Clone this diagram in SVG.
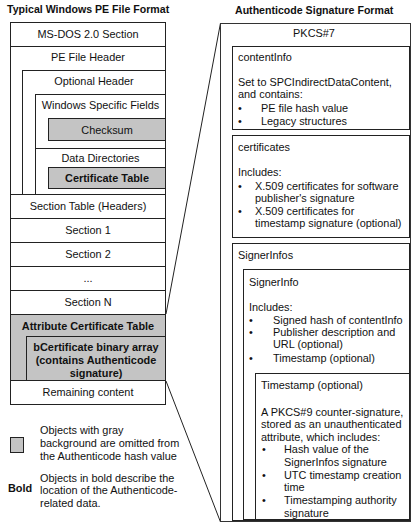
<svg xmlns="http://www.w3.org/2000/svg" width="412" height="526" viewBox="0 0 412 526">
<style>
text{font-family:"Liberation Sans",Arial,sans-serif;font-size:10.9px;fill:#111}
.t{font-size:10.6px}
.b{font-weight:bold}
.c{text-anchor:middle}
.box{fill:#fff;stroke:#222;stroke-width:1}
.g{fill:#c4c4c4;stroke:#222;stroke-width:1}
.ln{fill:none;stroke:#222;stroke-width:1}
</style>
<rect width="412" height="526" fill="#fff"/>
<text class="b t" x="7" y="13">Typical Windows PE File Format</text>
<text class="b t" x="235" y="14">Authenticode Signature Format</text>

<g id="pe-file">
<rect class="box" x="10.5" y="22.5" width="155" height="382"/>
</g>
<g id="ms-dos"><rect class="box" x="10.5" y="22.5" width="155" height="24"/><text class="c" x="88" y="38">MS-DOS 2.0 Section</text></g>
<g id="pe-header"><rect class="box" x="10.5" y="46.5" width="155" height="148"/><text class="c" x="88" y="61">PE File Header</text></g>
<g id="optional-header"><rect class="box" x="22.5" y="70.5" width="143" height="124"/><text class="c" x="94" y="85">Optional Header</text></g>
<g id="windows-fields"><rect class="box" x="35.5" y="94.5" width="130" height="54"/><text class="c" x="100.5" y="109">Windows Specific Fields</text></g>
<g id="checksum"><rect class="g" x="48.5" y="118.5" width="117" height="22"/><text class="c" x="107" y="134">Checksum</text></g>
<g id="data-directories"><rect class="box" x="35.5" y="148.5" width="130" height="46"/><text class="c" x="100.5" y="162">Data Directories</text></g>
<g id="certificate-table"><rect class="g" x="48.5" y="167.5" width="117" height="21"/><text class="c b" x="107" y="182">Certificate Table</text></g>
<g id="section-table"><rect class="box" x="10.5" y="194.5" width="155" height="24"/><text class="c" x="88" y="210">Section Table (Headers)</text></g>
<g id="section-1"><rect class="box" x="10.5" y="218.5" width="155" height="24"/><text class="c" x="88" y="234">Section 1</text></g>
<g id="section-2"><rect class="box" x="10.5" y="242.5" width="155" height="24"/><text class="c" x="88" y="258">Section 2</text></g>
<g id="section-dots"><rect class="box" x="10.5" y="266.5" width="155" height="24"/><text class="c" x="88" y="282">...</text></g>
<g id="section-n"><rect class="box" x="10.5" y="290.5" width="155" height="24"/><text class="c" x="88" y="306">Section N</text></g>
<g id="attribute-cert-table"><rect class="g" x="10.5" y="314.5" width="155" height="66"/><text class="c b" x="88" y="330">Attribute Certificate Table</text></g>
<g id="bcertificate"><rect class="g" x="26.5" y="336.5" width="139" height="44"/>
<text class="c b" x="96" y="351">bCertificate binary array</text>
<text class="c b" x="96" y="364">(contains Authenticode</text>
<text class="c b" x="96" y="377">signature)</text></g>
<g id="remaining"><rect class="box" x="10.5" y="380.5" width="155" height="24"/><text class="c" x="88" y="396">Remaining content</text></g>

<g id="legend-gray"><rect class="g" x="10.5" y="437.5" width="13" height="15"/>
<text x="40" y="434">Objects with gray</text>
<text x="40" y="447">background are omitted from</text>
<text x="40" y="460">the Authenticode hash value</text></g>
<g id="legend-bold"><text class="b" x="8" y="492">Bold</text>
<text x="40" y="482">Objects in bold describe the</text>
<text x="40" y="494">location of the Authenticode-</text>
<text x="40" y="507">related data.</text></g>

<g id="connectors">
<line class="ln" x1="166" y1="314" x2="220.5" y2="23"/>
<line class="ln" x1="166" y1="381" x2="220.5" y2="522"/>
</g>

<g id="pkcs7"><rect class="box" x="220.5" y="23.5" width="190" height="498" style="stroke:#333"/><text class="c" x="314" y="37">PKCS#7</text></g>
<g id="contentinfo"><rect class="box" x="232.5" y="46.5" width="177" height="83"/>
<text x="238" y="61">contentInfo</text>
<text x="238" y="86">Set to SPCIndirectDataContent,</text>
<text x="238" y="98">and contains:</text>
<text x="238" y="112">•</text><text x="261" y="112">PE file hash value</text>
<text x="238" y="125">•</text><text x="261" y="125">Legacy structures</text></g>
<g id="certificates"><rect class="box" x="232.5" y="135.5" width="177" height="102"/>
<text x="238" y="151">certificates</text>
<text x="238" y="176">Includes:</text>
<text x="238" y="190">•</text><text x="255" y="190">X.509 certificates for software</text>
<text x="255" y="202">publisher's signature</text>
<text x="238" y="215">•</text><text x="255" y="215">X.509 certificates for</text>
<text x="255" y="227">timestamp signature (optional)</text></g>
<g id="signerinfos"><rect class="box" x="232.5" y="243.5" width="177" height="277"/>
<text x="238" y="259">SignerInfos</text></g>
<g id="signerinfo"><rect class="box" x="243.5" y="269.5" width="166" height="250"/>
<text x="249" y="286">SignerInfo</text>
<text x="249" y="311">Includes:</text>
<text x="249" y="324">•</text><text x="273" y="324">Signed hash of contentInfo</text>
<text x="249" y="336">•</text><text x="273" y="336">Publisher description and</text>
<text x="273" y="348">URL (optional)</text>
<text x="249" y="362">•</text><text x="273" y="362">Timestamp (optional)</text></g>
<g id="timestamp"><rect class="box" x="255.5" y="373.5" width="154" height="146"/>
<text x="261" y="389">Timestamp (optional)</text>
<text x="261" y="416">A PKCS#9 counter-signature,</text>
<text x="261" y="428">stored as an unauthenticated</text>
<text x="261" y="441">attribute, which includes:</text>
<text x="262" y="453">•</text><text x="284" y="453">Hash value of the</text>
<text x="284" y="466">SignerInfos signature</text>
<text x="262" y="479">•</text><text x="284" y="479">UTC timestamp creation</text>
<text x="284" y="491">time</text>
<text x="262" y="504">•</text><text x="284" y="504">Timestamping authority</text>
<text x="284" y="517">signature</text></g>
</svg>
